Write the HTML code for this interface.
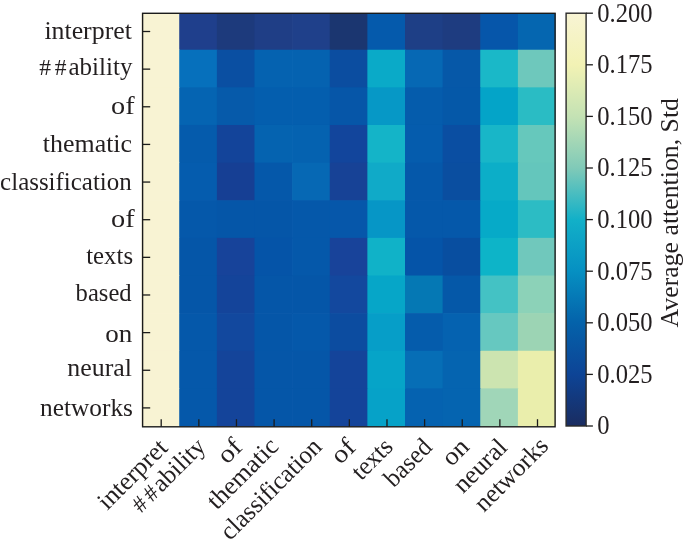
<!DOCTYPE html>
<html><head><meta charset="utf-8"><style>
html,body{margin:0;padding:0;background:#fff;overflow:hidden;}
svg{display:block;}
text{font-family:"Liberation Serif","Times New Roman",serif;font-size:25.5px;fill:#231f20;}
</style></head><body>
<svg width="685" height="547" viewBox="0 0 685 547">
<defs><linearGradient id="cb" x1="0" y1="0" x2="0" y2="1"><stop offset="0.000" stop-color="#f8f4d4"/><stop offset="0.125" stop-color="#f2f2b4"/><stop offset="0.250" stop-color="#c4e2b4"/><stop offset="0.375" stop-color="#80cab8"/><stop offset="0.500" stop-color="#12b0c8"/><stop offset="0.625" stop-color="#0690c2"/><stop offset="0.750" stop-color="#0462aa"/><stop offset="0.875" stop-color="#0d4496"/><stop offset="1.000" stop-color="#1a2c60"/></linearGradient></defs>
<rect x="141.6" y="13" width="38.33" height="37.43" fill="#f8f3d3"/>
<rect x="179.23" y="13" width="38.33" height="37.43" fill="#1f3f8c"/>
<rect x="216.86" y="13" width="38.33" height="37.43" fill="#1d3a7c"/>
<rect x="254.49" y="13" width="38.33" height="37.43" fill="#1f3e86"/>
<rect x="292.12" y="13" width="38.33" height="37.43" fill="#1f408a"/>
<rect x="329.75" y="13" width="38.33" height="37.43" fill="#1b3670"/>
<rect x="367.38" y="13" width="38.33" height="37.43" fill="#055aac"/>
<rect x="405.01" y="13" width="38.33" height="37.43" fill="#1e3f86"/>
<rect x="442.64" y="13" width="38.33" height="37.43" fill="#1e3c80"/>
<rect x="480.27" y="13" width="38.33" height="37.43" fill="#0656aa"/>
<rect x="517.9" y="13" width="37.63" height="37.43" fill="#0566b0"/>
<rect x="141.6" y="49.73" width="38.33" height="38.33" fill="#f8f3d3"/>
<rect x="179.23" y="49.73" width="38.33" height="38.33" fill="#0670bc"/>
<rect x="216.86" y="49.73" width="38.33" height="38.33" fill="#0a4fa2"/>
<rect x="254.49" y="49.73" width="38.33" height="38.33" fill="#0562b0"/>
<rect x="292.12" y="49.73" width="38.33" height="38.33" fill="#0562b0"/>
<rect x="329.75" y="49.73" width="38.33" height="38.33" fill="#0b4da0"/>
<rect x="367.38" y="49.73" width="38.33" height="38.33" fill="#0aaac8"/>
<rect x="405.01" y="49.73" width="38.33" height="38.33" fill="#0668b4"/>
<rect x="442.64" y="49.73" width="38.33" height="38.33" fill="#0658a8"/>
<rect x="480.27" y="49.73" width="38.33" height="38.33" fill="#1ab8c8"/>
<rect x="517.9" y="49.73" width="37.63" height="38.33" fill="#6ec8bc"/>
<rect x="141.6" y="87.36" width="38.33" height="38.33" fill="#f8f3d3"/>
<rect x="179.23" y="87.36" width="38.33" height="38.33" fill="#0564b2"/>
<rect x="216.86" y="87.36" width="38.33" height="38.33" fill="#065aaa"/>
<rect x="254.49" y="87.36" width="38.33" height="38.33" fill="#045eae"/>
<rect x="292.12" y="87.36" width="38.33" height="38.33" fill="#045eae"/>
<rect x="329.75" y="87.36" width="38.33" height="38.33" fill="#0656a8"/>
<rect x="367.38" y="87.36" width="38.33" height="38.33" fill="#0698c6"/>
<rect x="405.01" y="87.36" width="38.33" height="38.33" fill="#055cac"/>
<rect x="442.64" y="87.36" width="38.33" height="38.33" fill="#0558a8"/>
<rect x="480.27" y="87.36" width="38.33" height="38.33" fill="#04a4c8"/>
<rect x="517.9" y="87.36" width="37.63" height="38.33" fill="#2abcc4"/>
<rect x="141.6" y="124.99" width="38.33" height="38.33" fill="#f8f3d3"/>
<rect x="179.23" y="124.99" width="38.33" height="38.33" fill="#055bac"/>
<rect x="216.86" y="124.99" width="38.33" height="38.33" fill="#13449a"/>
<rect x="254.49" y="124.99" width="38.33" height="38.33" fill="#0563b0"/>
<rect x="292.12" y="124.99" width="38.33" height="38.33" fill="#0562b0"/>
<rect x="329.75" y="124.99" width="38.33" height="38.33" fill="#12459c"/>
<rect x="367.38" y="124.99" width="38.33" height="38.33" fill="#14b4c8"/>
<rect x="405.01" y="124.99" width="38.33" height="38.33" fill="#055cad"/>
<rect x="442.64" y="124.99" width="38.33" height="38.33" fill="#0a4ea2"/>
<rect x="480.27" y="124.99" width="38.33" height="38.33" fill="#18b6c8"/>
<rect x="517.9" y="124.99" width="37.63" height="38.33" fill="#66c8bc"/>
<rect x="141.6" y="162.62" width="38.33" height="38.33" fill="#f8f3d3"/>
<rect x="179.23" y="162.62" width="38.33" height="38.33" fill="#055cae"/>
<rect x="216.86" y="162.62" width="38.33" height="38.33" fill="#163f94"/>
<rect x="254.49" y="162.62" width="38.33" height="38.33" fill="#0558aa"/>
<rect x="292.12" y="162.62" width="38.33" height="38.33" fill="#0668b4"/>
<rect x="329.75" y="162.62" width="38.33" height="38.33" fill="#174296"/>
<rect x="367.38" y="162.62" width="38.33" height="38.33" fill="#10aac8"/>
<rect x="405.01" y="162.62" width="38.33" height="38.33" fill="#0558aa"/>
<rect x="442.64" y="162.62" width="38.33" height="38.33" fill="#0a4ea0"/>
<rect x="480.27" y="162.62" width="38.33" height="38.33" fill="#0caec8"/>
<rect x="517.9" y="162.62" width="37.63" height="38.33" fill="#64c6bc"/>
<rect x="141.6" y="200.25" width="38.33" height="38.33" fill="#f8f3d3"/>
<rect x="179.23" y="200.25" width="38.33" height="38.33" fill="#0558aa"/>
<rect x="216.86" y="200.25" width="38.33" height="38.33" fill="#0556a8"/>
<rect x="254.49" y="200.25" width="38.33" height="38.33" fill="#0556a8"/>
<rect x="292.12" y="200.25" width="38.33" height="38.33" fill="#0558aa"/>
<rect x="329.75" y="200.25" width="38.33" height="38.33" fill="#0657aa"/>
<rect x="367.38" y="200.25" width="38.33" height="38.33" fill="#0696c6"/>
<rect x="405.01" y="200.25" width="38.33" height="38.33" fill="#0558aa"/>
<rect x="442.64" y="200.25" width="38.33" height="38.33" fill="#0558aa"/>
<rect x="480.27" y="200.25" width="38.33" height="38.33" fill="#06aac8"/>
<rect x="517.9" y="200.25" width="37.63" height="38.33" fill="#2cbcc4"/>
<rect x="141.6" y="237.88" width="38.33" height="38.33" fill="#f8f3d3"/>
<rect x="179.23" y="237.88" width="38.33" height="38.33" fill="#0556a8"/>
<rect x="216.86" y="237.88" width="38.33" height="38.33" fill="#17439a"/>
<rect x="254.49" y="237.88" width="38.33" height="38.33" fill="#0554a8"/>
<rect x="292.12" y="237.88" width="38.33" height="38.33" fill="#0558aa"/>
<rect x="329.75" y="237.88" width="38.33" height="38.33" fill="#18439a"/>
<rect x="367.38" y="237.88" width="38.33" height="38.33" fill="#10b2c8"/>
<rect x="405.01" y="237.88" width="38.33" height="38.33" fill="#0554a8"/>
<rect x="442.64" y="237.88" width="38.33" height="38.33" fill="#084ea0"/>
<rect x="480.27" y="237.88" width="38.33" height="38.33" fill="#0db4c8"/>
<rect x="517.9" y="237.88" width="37.63" height="38.33" fill="#70c8bc"/>
<rect x="141.6" y="275.51" width="38.33" height="38.33" fill="#f8f3d3"/>
<rect x="179.23" y="275.51" width="38.33" height="38.33" fill="#0556a8"/>
<rect x="216.86" y="275.51" width="38.33" height="38.33" fill="#14449a"/>
<rect x="254.49" y="275.51" width="38.33" height="38.33" fill="#0556a8"/>
<rect x="292.12" y="275.51" width="38.33" height="38.33" fill="#0556a8"/>
<rect x="329.75" y="275.51" width="38.33" height="38.33" fill="#13489e"/>
<rect x="367.38" y="275.51" width="38.33" height="38.33" fill="#06a6c8"/>
<rect x="405.01" y="275.51" width="38.33" height="38.33" fill="#0578b4"/>
<rect x="442.64" y="275.51" width="38.33" height="38.33" fill="#0558a8"/>
<rect x="480.27" y="275.51" width="38.33" height="38.33" fill="#44c2c4"/>
<rect x="517.9" y="275.51" width="37.63" height="38.33" fill="#8cd2b8"/>
<rect x="141.6" y="313.14" width="38.33" height="38.33" fill="#f8f3d3"/>
<rect x="179.23" y="313.14" width="38.33" height="38.33" fill="#0558aa"/>
<rect x="216.86" y="313.14" width="38.33" height="38.33" fill="#12489e"/>
<rect x="254.49" y="313.14" width="38.33" height="38.33" fill="#0556a8"/>
<rect x="292.12" y="313.14" width="38.33" height="38.33" fill="#0558aa"/>
<rect x="329.75" y="313.14" width="38.33" height="38.33" fill="#0c4ca0"/>
<rect x="367.38" y="313.14" width="38.33" height="38.33" fill="#069ec8"/>
<rect x="405.01" y="313.14" width="38.33" height="38.33" fill="#055cac"/>
<rect x="442.64" y="313.14" width="38.33" height="38.33" fill="#0562b0"/>
<rect x="480.27" y="313.14" width="38.33" height="38.33" fill="#66c8c0"/>
<rect x="517.9" y="313.14" width="37.63" height="38.33" fill="#9cd4b4"/>
<rect x="141.6" y="350.77" width="38.33" height="38.33" fill="#f8f3d3"/>
<rect x="179.23" y="350.77" width="38.33" height="38.33" fill="#0558aa"/>
<rect x="216.86" y="350.77" width="38.33" height="38.33" fill="#14449a"/>
<rect x="254.49" y="350.77" width="38.33" height="38.33" fill="#0556a8"/>
<rect x="292.12" y="350.77" width="38.33" height="38.33" fill="#0556a8"/>
<rect x="329.75" y="350.77" width="38.33" height="38.33" fill="#14449a"/>
<rect x="367.38" y="350.77" width="38.33" height="38.33" fill="#06a4c8"/>
<rect x="405.01" y="350.77" width="38.33" height="38.33" fill="#066eb6"/>
<rect x="442.64" y="350.77" width="38.33" height="38.33" fill="#0564b0"/>
<rect x="480.27" y="350.77" width="38.33" height="38.33" fill="#cce4b0"/>
<rect x="517.9" y="350.77" width="37.63" height="38.33" fill="#eaeeac"/>
<rect x="141.6" y="388.4" width="38.33" height="38.13" fill="#f8f3d3"/>
<rect x="179.23" y="388.4" width="38.33" height="38.13" fill="#0558aa"/>
<rect x="216.86" y="388.4" width="38.33" height="38.13" fill="#14449a"/>
<rect x="254.49" y="388.4" width="38.33" height="38.13" fill="#0556a8"/>
<rect x="292.12" y="388.4" width="38.33" height="38.13" fill="#0556a8"/>
<rect x="329.75" y="388.4" width="38.33" height="38.13" fill="#14449a"/>
<rect x="367.38" y="388.4" width="38.33" height="38.13" fill="#06a2c8"/>
<rect x="405.01" y="388.4" width="38.33" height="38.13" fill="#0562b0"/>
<rect x="442.64" y="388.4" width="38.33" height="38.13" fill="#0564b0"/>
<rect x="480.27" y="388.4" width="38.33" height="38.13" fill="#a0d6b8"/>
<rect x="517.9" y="388.4" width="37.63" height="38.13" fill="#eaeeac"/>
<rect x="142.6" y="13.3" width="412.5" height="413.5" fill="none" stroke="#1b1b1b" stroke-width="1.4"/>
<line x1="142.6" y1="31.5" x2="150.2" y2="31.5" stroke="#1b1b1b" stroke-width="1.3"/>
<line x1="142.6" y1="69.14" x2="150.2" y2="69.14" stroke="#1b1b1b" stroke-width="1.3"/>
<line x1="142.6" y1="106.78" x2="150.2" y2="106.78" stroke="#1b1b1b" stroke-width="1.3"/>
<line x1="142.6" y1="144.42" x2="150.2" y2="144.42" stroke="#1b1b1b" stroke-width="1.3"/>
<line x1="142.6" y1="182.06" x2="150.2" y2="182.06" stroke="#1b1b1b" stroke-width="1.3"/>
<line x1="142.6" y1="219.7" x2="150.2" y2="219.7" stroke="#1b1b1b" stroke-width="1.3"/>
<line x1="142.6" y1="257.34" x2="150.2" y2="257.34" stroke="#1b1b1b" stroke-width="1.3"/>
<line x1="142.6" y1="294.98" x2="150.2" y2="294.98" stroke="#1b1b1b" stroke-width="1.3"/>
<line x1="142.6" y1="332.62" x2="150.2" y2="332.62" stroke="#1b1b1b" stroke-width="1.3"/>
<line x1="142.6" y1="370.26" x2="150.2" y2="370.26" stroke="#1b1b1b" stroke-width="1.3"/>
<line x1="142.6" y1="407.9" x2="150.2" y2="407.9" stroke="#1b1b1b" stroke-width="1.3"/>
<text transform="translate(44.4,38.8) scale(1.013,1)">interpret</text>
<text transform="translate(0,74.8)"><tspan x="39.2" font-size="23.5">#</tspan><tspan x="54.8" font-size="23.5">#</tspan><tspan x="68.5" font-size="25">ability</tspan></text>
<text transform="translate(111.02,114.4) scale(1.110,1)">of</text>
<text transform="translate(42.8,151.8) scale(1.017,1)">thematic</text>
<text transform="translate(0.12,189.5) scale(0.979,1)">classification</text>
<text transform="translate(111.01,226.8) scale(1.115,1)">of</text>
<text transform="translate(86.2,264.3) scale(0.973,1)">texts</text>
<text transform="translate(75.6,300.6) scale(0.966,1)">based</text>
<text transform="translate(105.25,342) scale(1.061,1)">on</text>
<text transform="translate(67.3,375.6) scale(1.016,1)">neural</text>
<text transform="translate(40,415.6) scale(0.995,1)">networks</text>
<line x1="161.2" y1="426.8" x2="161.2" y2="419.2" stroke="#1b1b1b" stroke-width="1.3"/>
<text transform="translate(169,449.1) rotate(-45) scale(1.013,1)" text-anchor="end">interpret</text>
<line x1="198.83" y1="426.8" x2="198.83" y2="419.2" stroke="#1b1b1b" stroke-width="1.3"/>
<text transform="translate(206.83,447.8) rotate(-45)"><tspan x="-93.18" font-size="23.5">#</tspan><tspan x="-77.58" font-size="23.5">#</tspan><tspan x="-63.88" font-size="25">ability</tspan></text>
<line x1="236.46" y1="426.8" x2="236.46" y2="419.2" stroke="#1b1b1b" stroke-width="1.3"/>
<text transform="translate(243.76,448.4) rotate(-45) scale(1.110,1)" text-anchor="end">of</text>
<line x1="274.09" y1="426.8" x2="274.09" y2="419.2" stroke="#1b1b1b" stroke-width="1.3"/>
<text transform="translate(279.89,447.5) rotate(-45) scale(1.017,1)" text-anchor="end">thematic</text>
<line x1="311.72" y1="426.8" x2="311.72" y2="419.2" stroke="#1b1b1b" stroke-width="1.3"/>
<text transform="translate(323.12,448.2) rotate(-45) scale(0.979,1)" text-anchor="end">classification</text>
<line x1="349.35" y1="426.8" x2="349.35" y2="419.2" stroke="#1b1b1b" stroke-width="1.3"/>
<text transform="translate(357.15,448.6) rotate(-45) scale(1.110,1)" text-anchor="end">of</text>
<line x1="386.98" y1="426.8" x2="386.98" y2="419.2" stroke="#1b1b1b" stroke-width="1.3"/>
<text transform="translate(394.28,448.1) rotate(-45) scale(0.973,1)" text-anchor="end">texts</text>
<line x1="424.61" y1="426.8" x2="424.61" y2="419.2" stroke="#1b1b1b" stroke-width="1.3"/>
<text transform="translate(433.41,448.6) rotate(-45) scale(0.966,1)" text-anchor="end">based</text>
<line x1="462.24" y1="426.8" x2="462.24" y2="419.2" stroke="#1b1b1b" stroke-width="1.3"/>
<text transform="translate(470.54,448.1) rotate(-45) scale(1.061,1)" text-anchor="end">on</text>
<line x1="499.87" y1="426.8" x2="499.87" y2="419.2" stroke="#1b1b1b" stroke-width="1.3"/>
<text transform="translate(508.67,448.6) rotate(-45) scale(1.016,1)" text-anchor="end">neural</text>
<line x1="537.5" y1="426.8" x2="537.5" y2="419.2" stroke="#1b1b1b" stroke-width="1.3"/>
<text transform="translate(549.7,447.3) rotate(-45) scale(0.995,1)" text-anchor="end">networks</text>
<rect x="566.1" y="13.2" width="20" height="412.8" fill="url(#cb)" stroke="#2a2a2a" stroke-width="1.4"/>
<line x1="586.1" y1="13.2" x2="592.9" y2="13.2" stroke="#1b1b1b" stroke-width="1.3"/>
<text transform="translate(597.2,21.5) scale(0.965,1.03)">0.200</text>
<line x1="586.1" y1="64.8" x2="592.9" y2="64.8" stroke="#1b1b1b" stroke-width="1.3"/>
<text transform="translate(597.2,73.1) scale(0.965,1.03)">0.175</text>
<line x1="586.1" y1="116.4" x2="592.9" y2="116.4" stroke="#1b1b1b" stroke-width="1.3"/>
<text transform="translate(597.2,124.7) scale(0.965,1.03)">0.150</text>
<line x1="586.1" y1="168" x2="592.9" y2="168" stroke="#1b1b1b" stroke-width="1.3"/>
<text transform="translate(597.2,176.3) scale(0.965,1.03)">0.125</text>
<line x1="586.1" y1="219.6" x2="592.9" y2="219.6" stroke="#1b1b1b" stroke-width="1.3"/>
<text transform="translate(597.2,227.9) scale(0.965,1.03)">0.100</text>
<line x1="586.1" y1="271.2" x2="592.9" y2="271.2" stroke="#1b1b1b" stroke-width="1.3"/>
<text transform="translate(597.2,279.5) scale(0.965,1.03)">0.075</text>
<line x1="586.1" y1="322.8" x2="592.9" y2="322.8" stroke="#1b1b1b" stroke-width="1.3"/>
<text transform="translate(597.2,331.1) scale(0.965,1.03)">0.050</text>
<line x1="586.1" y1="374.4" x2="592.9" y2="374.4" stroke="#1b1b1b" stroke-width="1.3"/>
<text transform="translate(597.2,382.7) scale(0.965,1.03)">0.025</text>
<line x1="586.1" y1="426" x2="592.9" y2="426" stroke="#1b1b1b" stroke-width="1.3"/>
<text transform="translate(597.2,434.3) scale(0.965,1.03)">0</text>
<text transform="translate(678,212.7) rotate(-90) scale(1.012,1)" text-anchor="middle">Average attention, Std</text>
</svg>
</body></html>
